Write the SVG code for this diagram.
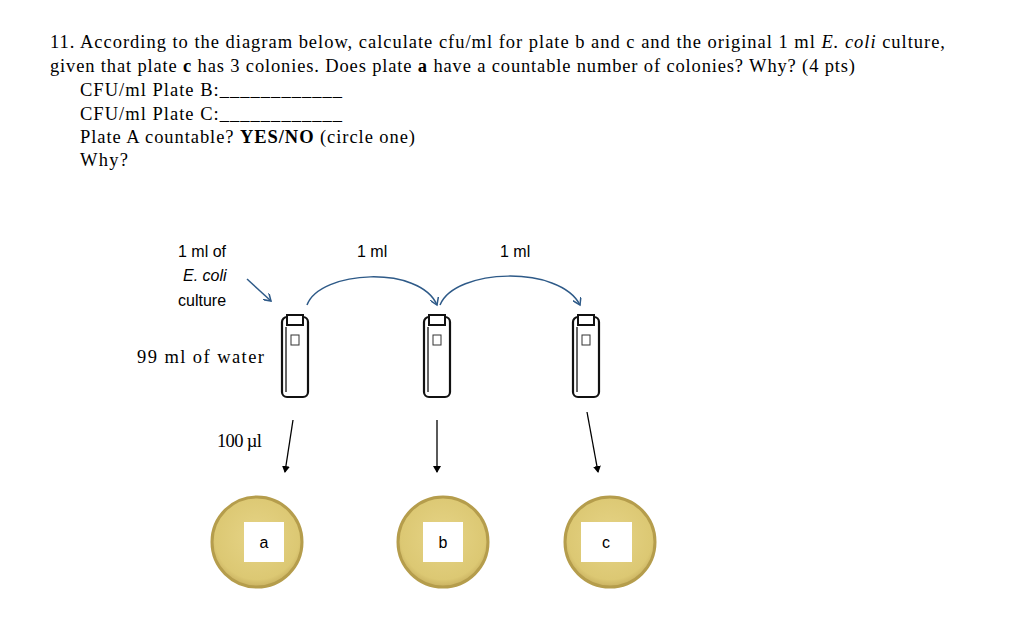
<svg xmlns="http://www.w3.org/2000/svg" width="1016" height="641" viewBox="0 0 1016 641">
<defs>
<style>
.q{font-family:"Liberation Serif",serif;font-size:18.5px;fill:#000}
.s{font-family:"Liberation Sans",sans-serif;font-size:16px;fill:#000}
.c{fill:none;stroke:#2e5a88;stroke-width:1.5}
.k{fill:none;stroke:#000;stroke-width:1.3}
.tube{fill:#fff;stroke:#111;stroke-width:2.2}
.plate{stroke:#b59d4c;stroke-width:3}
.lbl{fill:#fff}
</style>
<marker id="ab" markerWidth="8" markerHeight="8" refX="6" refY="4" orient="auto" markerUnits="userSpaceOnUse"><path d="M0,0 L7,4 L0,8 Z" fill="#000"/></marker>
<marker id="ob" markerWidth="9" markerHeight="9" refX="7" refY="4.5" orient="auto" markerUnits="userSpaceOnUse"><path d="M0,0 L7,4.5 L0,9" fill="none" stroke="#2e5a88" stroke-width="1.5"/></marker>
<g id="tubeShape">
<rect x="-13" y="0" width="26" height="80" rx="5" class="tube"/>
<rect x="-8" y="-2" width="16" height="10" fill="#fff" stroke="#111" stroke-width="2"/>
<rect x="-4" y="18" width="8" height="10" fill="none" stroke="#333" stroke-width="1"/>
<line x1="-9" y1="10" x2="-9" y2="75" stroke="#666" stroke-width="2"/>
</g>
<radialGradient id="pg" cx="0.5" cy="0.45" r="0.55"><stop offset="0" stop-color="#e6d487"/><stop offset="0.85" stop-color="#dcc873"/><stop offset="1" stop-color="#c9b160"/></radialGradient>
</defs>
<rect width="1016" height="641" fill="#fff"/>
<g id="question">
<text class="q" x="50" y="48" textLength="895" lengthAdjust="spacing">11. According to the diagram below, calculate cfu/ml for plate b and c and the original 1 ml <tspan font-style="italic">E. coli</tspan> culture,</text>
<text class="q" x="50" y="72" textLength="805" lengthAdjust="spacing">given that plate <tspan font-weight="bold">c</tspan> has 3 colonies. Does plate <tspan font-weight="bold">a</tspan> have a countable number of colonies? Why? (4 pts)</text>
<text class="q" x="80" y="96" textLength="262" lengthAdjust="spacing">CFU/ml Plate B:____________</text>
<text class="q" x="80" y="120" textLength="262" lengthAdjust="spacing">CFU/ml Plate C:____________</text>
<text class="q" x="80" y="143" textLength="335" lengthAdjust="spacing">Plate A countable? <tspan font-weight="bold">YES/NO</tspan> (circle one)</text>
<text class="q" x="80" y="166" textLength="48" lengthAdjust="spacing">Why?</text>
</g>
<g id="labels">
<text class="s" x="178" y="257">1 ml of</text>
<text class="s" x="183" y="281" font-style="italic">E. coli</text>
<text class="s" x="178" y="306">culture</text>
<text class="s" x="357" y="257">1 ml</text>
<text class="s" x="500" y="257">1 ml</text>
<text class="q" x="137" y="363" textLength="127" lengthAdjust="spacing">99 ml of water</text>
<text class="q" x="217" y="447" textLength="45" lengthAdjust="spacing">100 µl</text>
</g>
<g id="tube1" transform="translate(295,317)"><use href="#tubeShape"/></g>
<g id="tube2" transform="translate(437,317)"><use href="#tubeShape"/></g>
<g id="tube3" transform="translate(586,317)"><use href="#tubeShape"/></g>
<g id="plate-a"><circle cx="257" cy="542" r="45" class="plate" fill="url(#pg)"/><rect x="244" y="522" width="40" height="40" class="lbl"/><text class="s" x="264" y="548" text-anchor="middle" font-size="15">a</text></g>
<g id="plate-b"><circle cx="443" cy="542" r="45" class="plate" fill="url(#pg)"/><rect x="423" y="522" width="40" height="40" class="lbl"/><text class="s" x="443" y="548" text-anchor="middle" font-size="15">b</text></g>
<g id="plate-c"><circle cx="610" cy="542" r="45" class="plate" fill="url(#pg)"/><rect x="581" y="522" width="51" height="40" class="lbl"/><text class="s" x="606" y="548" text-anchor="middle" font-size="15">c</text></g>
<g id="connectors">
<path class="c" d="M247,279 L271,301" marker-end="url(#ob)"/>
<path class="c" d="M307,305 C320,270 420,265 437,305" marker-end="url(#ob)"/>
<path class="c" d="M440,305 C455,268 560,265 580,305" marker-end="url(#ob)"/>
<path class="k" d="M293,420 L285,472" marker-end="url(#ab)"/>
<path class="k" d="M437,420 L437,472" marker-end="url(#ab)"/>
<path class="k" d="M587,412 L598,472" marker-end="url(#ab)"/>
</g>
</svg>
